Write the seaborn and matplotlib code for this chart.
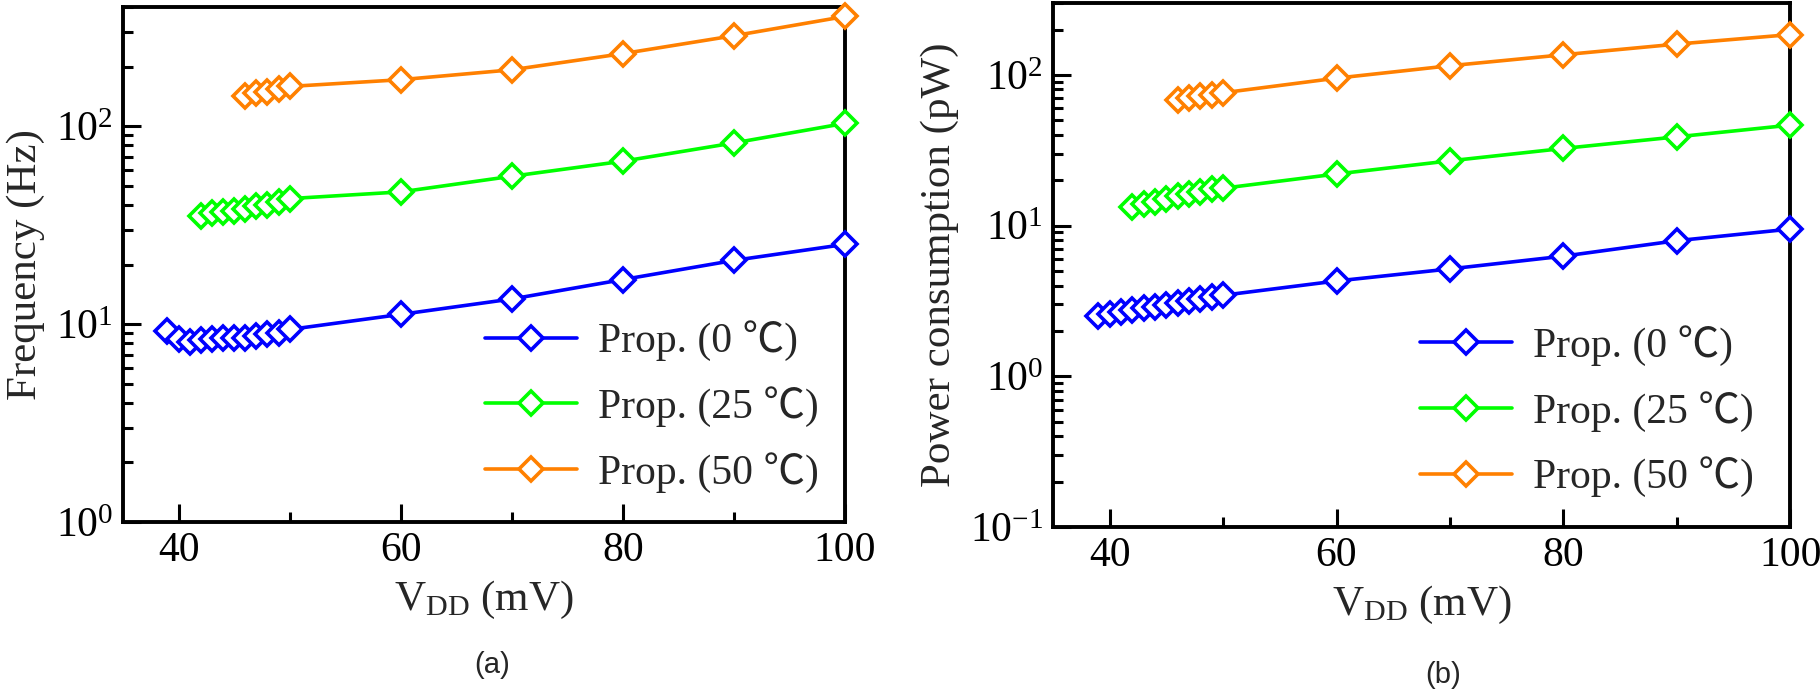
import seaborn as sns
import matplotlib.pyplot as plt
from matplotlib.ticker import MultipleLocator, LogLocator, NullFormatter

# supply voltages (mV) per temperature
vdd_0c = [39, 40, 41, 42, 43, 44, 45, 46, 47, 48, 49, 50, 60, 70, 80, 90, 100]
vdd_25c = [42, 43, 44, 45, 46, 47, 48, 49, 50, 60, 70, 80, 90, 100]
vdd_50c = [46, 47, 48, 49, 50, 60, 70, 80, 90, 100]

# (a) frequency, Hz
freq_0c = [9.2, 8.4, 8.1, 8.3, 8.4, 8.5, 8.5, 8.5, 8.7, 8.9, 9.0, 9.4, 11.2, 13.4, 16.8, 21.0, 25.3]
freq_25c = [35.1, 36.4, 36.9, 37.5, 38.1, 39.6, 40.2, 41.2, 43.1, 46.6, 55.9, 66.6, 82.4, 103.5]
freq_50c = [143, 147, 149, 154, 159, 172, 193, 233, 287, 359]

# (b) power consumption, pW
pow_0c = [2.52, 2.60, 2.67, 2.75, 2.82, 2.90, 2.97, 3.05, 3.15, 3.25, 3.35, 3.45, 4.29, 5.16, 6.27, 7.94, 9.48]
pow_25c = [13.2, 13.9, 14.4, 15.0, 15.6, 16.1, 16.8, 17.4, 17.7, 22.0, 26.9, 32.5, 38.8, 46.4]
pow_50c = [67.8, 70.2, 72.3, 73.1, 76.1, 95.1, 115, 136, 160, 185]

labels = ["Prop. (0 \u2103)", "Prop. (25 \u2103)", "Prop. (50 \u2103)"]
colors = ["#0000FF", "#00FF00", "#FF8000"]

sns.set_theme(style="ticks")
plt.rcParams["font.family"] = ["Liberation Serif", "Noto Sans CJK SC", "DejaVu Serif"]
plt.rcParams["mathtext.fontset"] = "custom"
plt.rcParams["mathtext.rm"] = "Liberation Serif"
plt.rcParams["mathtext.it"] = "Liberation Serif:italic"
plt.rcParams["axes.unicode_minus"] = False

fig = plt.figure(figsize=(18.2, 6.91), dpi=100)
ax1 = fig.add_axes([0.0676, 0.2446, 0.3967, 0.745])
ax2 = fig.add_axes([0.5786, 0.2373, 0.405, 0.7584])


def draw(ax, series, ylim, ylabel, legend_anchor):
    for (x, y), lab, c in zip(series, labels, colors):
        sns.lineplot(x=x, y=y, ax=ax, color=c, label=lab, marker="D",
                     markersize=12, markeredgewidth=2.6, markeredgecolor=c,
                     markerfacecolor="white", linewidth=2.6, clip_on=False,
                     zorder=3)
    ax.set_yscale("log")
    ax.set_xlim(35, 100)
    ax.set_ylim(*ylim)
    ax.xaxis.set_major_locator(MultipleLocator(20))
    ax.xaxis.set_minor_locator(MultipleLocator(10))
    ax.yaxis.set_minor_locator(LogLocator(base=10, subs=range(2, 10), numticks=20))
    ax.yaxis.set_minor_formatter(NullFormatter())
    for s in ax.spines.values():
        s.set_linewidth(2.8)
        s.set_color("black")
    ax.tick_params(which="both", direction="in", top=False, right=False,
                   width=2.2, colors="black", labelsize=30, pad=7)
    ax.tick_params(which="major", length=13)
    ax.tick_params(which="minor", length=7)
    ax.set_xlabel(r"$\mathregular{V_{DD}}$ (mV)", fontsize=31, labelpad=6)
    ax.set_ylabel(ylabel, fontsize=31, labelpad=8)
    h, l = ax.get_legend_handles_labels()
    ax.legend(h, l, loc="lower left", bbox_to_anchor=legend_anchor,
              frameon=False, fontsize=30, handlelength=2.2,
              handletextpad=0.5, labelspacing=0.6)


draw(ax1, [(vdd_0c, freq_0c), (vdd_25c, freq_25c), (vdd_50c, freq_50c)],
     (1, 400), "Frequency (Hz)", (0.45, -0.016))
draw(ax2, [(vdd_0c, pow_0c), (vdd_25c, pow_25c), (vdd_50c, pow_50c)],
     (0.1, 300), "Power consumption (pW)", (0.447, -0.015))

fig.text(492 / 1820, 1 - 665 / 691, "(a)", family="Liberation Sans",
         fontsize=21, ha="center", va="center")
fig.text(1443 / 1820, 1 - 675 / 691, "(b)", family="Liberation Sans",
         fontsize=21, ha="center", va="center")

fig.savefig("out.png", dpi=100)
